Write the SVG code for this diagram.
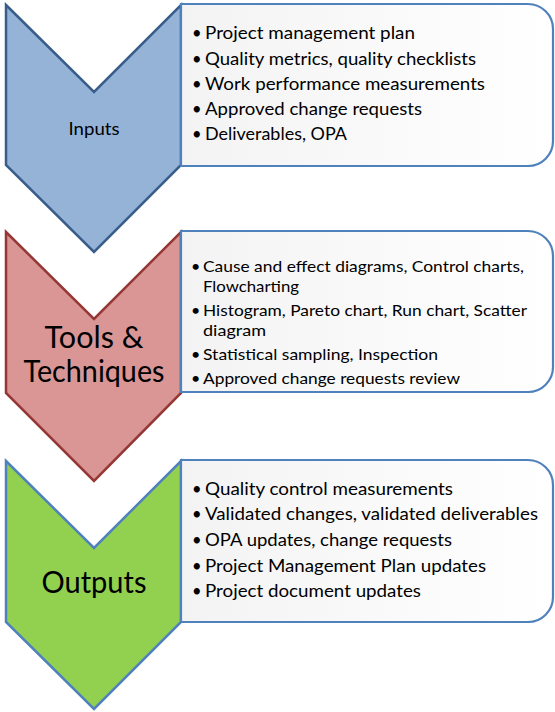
<svg xmlns="http://www.w3.org/2000/svg" width="555" height="712" viewBox="0 0 555 712">
<style>
.box{stroke:#4F81BD;stroke-width:2.2;fill:url(#g)}
.chev{stroke-width:2.5;stroke-linejoin:miter}
.t{font-family:Lato,"Liberation Sans",sans-serif;fill:#000}
.li{font-size:16.5px}
.li2{font-size:16px}
</style>
<defs>
<linearGradient id="g" x1="0" y1="0" x2="1" y2="0">
<stop offset="0" stop-color="#f3f3f3"/>
<stop offset="1" stop-color="#ffffff"/>
</linearGradient>
</defs>
<g id="inputs">
<path class="chev" d="M6,5 L94,92 L181,5 L181,165 L94,252 L6,165 Z" fill="#95B3D7" stroke="#385D8A"/>
<path class="box" d="M181,4 H528 A25,25 0 0 1 553,29 V141 A25,25 0 0 1 528,166 H181 Z"/>
<text class="t" x="94" y="135" font-size="18" text-anchor="middle" textLength="51" lengthAdjust="spacingAndGlyphs">Inputs</text>
<g class="t li">
<text x="192" y="39">•</text><text x="205" y="39" textLength="210" lengthAdjust="spacingAndGlyphs">Project management plan</text>
<text x="192" y="64.5">•</text><text x="205" y="64.5" textLength="271" lengthAdjust="spacingAndGlyphs">Quality metrics, quality checklists</text>
<text x="192" y="90">•</text><text x="205" y="90" textLength="280" lengthAdjust="spacingAndGlyphs">Work performance measurements</text>
<text x="192" y="115">•</text><text x="205" y="115" textLength="217" lengthAdjust="spacingAndGlyphs">Approved change requests</text>
<text x="192" y="140">•</text><text x="205" y="140" textLength="142" lengthAdjust="spacingAndGlyphs">Deliverables, OPA</text>
</g>
</g>
<g id="tools">
<path class="chev" d="M6,232 L94,319 L181,232 L181,393 L94,481 L6,393 Z" fill="#D99694" stroke="#953735"/>
<path class="box" d="M181,231 H528 A25,25 0 0 1 553,256 V367 A25,25 0 0 1 528,392 H181 Z"/>
<text class="t" x="94" y="348" font-size="30" text-anchor="middle" textLength="99" lengthAdjust="spacingAndGlyphs">Tools &amp;</text>
<text class="t" x="94" y="382" font-size="30" text-anchor="middle" textLength="141" lengthAdjust="spacingAndGlyphs">Techniques</text>
<g class="t li2">
<text x="191" y="272">•</text><text x="203" y="272" textLength="321" lengthAdjust="spacingAndGlyphs">Cause and effect diagrams, Control charts,</text>
<text x="203" y="292" textLength="96" lengthAdjust="spacingAndGlyphs">Flowcharting</text>
<text x="191" y="316">•</text><text x="203" y="316" textLength="324" lengthAdjust="spacingAndGlyphs">Histogram, Pareto chart, Run chart, Scatter</text>
<text x="203" y="336" textLength="63" lengthAdjust="spacingAndGlyphs">diagram</text>
<text x="191" y="360">•</text><text x="203" y="360" textLength="235" lengthAdjust="spacingAndGlyphs">Statistical sampling, Inspection</text>
<text x="191" y="384">•</text><text x="203" y="384" textLength="257" lengthAdjust="spacingAndGlyphs">Approved change requests review</text>
</g>
</g>
<g id="outputs">
<path class="chev" d="M6,461 L94,548 L181,461 L181,622 L94,709 L6,622 Z" fill="#92D050" stroke="#4F81BD"/>
<path class="box" d="M181,460 H528 A25,25 0 0 1 553,485 V597 A25,25 0 0 1 528,622 H181 Z"/>
<text class="t" x="94" y="593" font-size="30" text-anchor="middle" textLength="105" lengthAdjust="spacingAndGlyphs">Outputs</text>
<g class="t li">
<text x="192" y="495">•</text><text x="205" y="495" textLength="248" lengthAdjust="spacingAndGlyphs">Quality control measurements</text>
<text x="192" y="520">•</text><text x="205" y="520" textLength="333" lengthAdjust="spacingAndGlyphs">Validated changes, validated deliverables</text>
<text x="192" y="546">•</text><text x="205" y="546" textLength="247" lengthAdjust="spacingAndGlyphs">OPA updates, change requests</text>
<text x="192" y="572">•</text><text x="205" y="572" textLength="281" lengthAdjust="spacingAndGlyphs">Project Management Plan updates</text>
<text x="192" y="597">•</text><text x="205" y="597" textLength="216" lengthAdjust="spacingAndGlyphs">Project document updates</text>
</g>
</g>
<g id="connectors"/>
</svg>
